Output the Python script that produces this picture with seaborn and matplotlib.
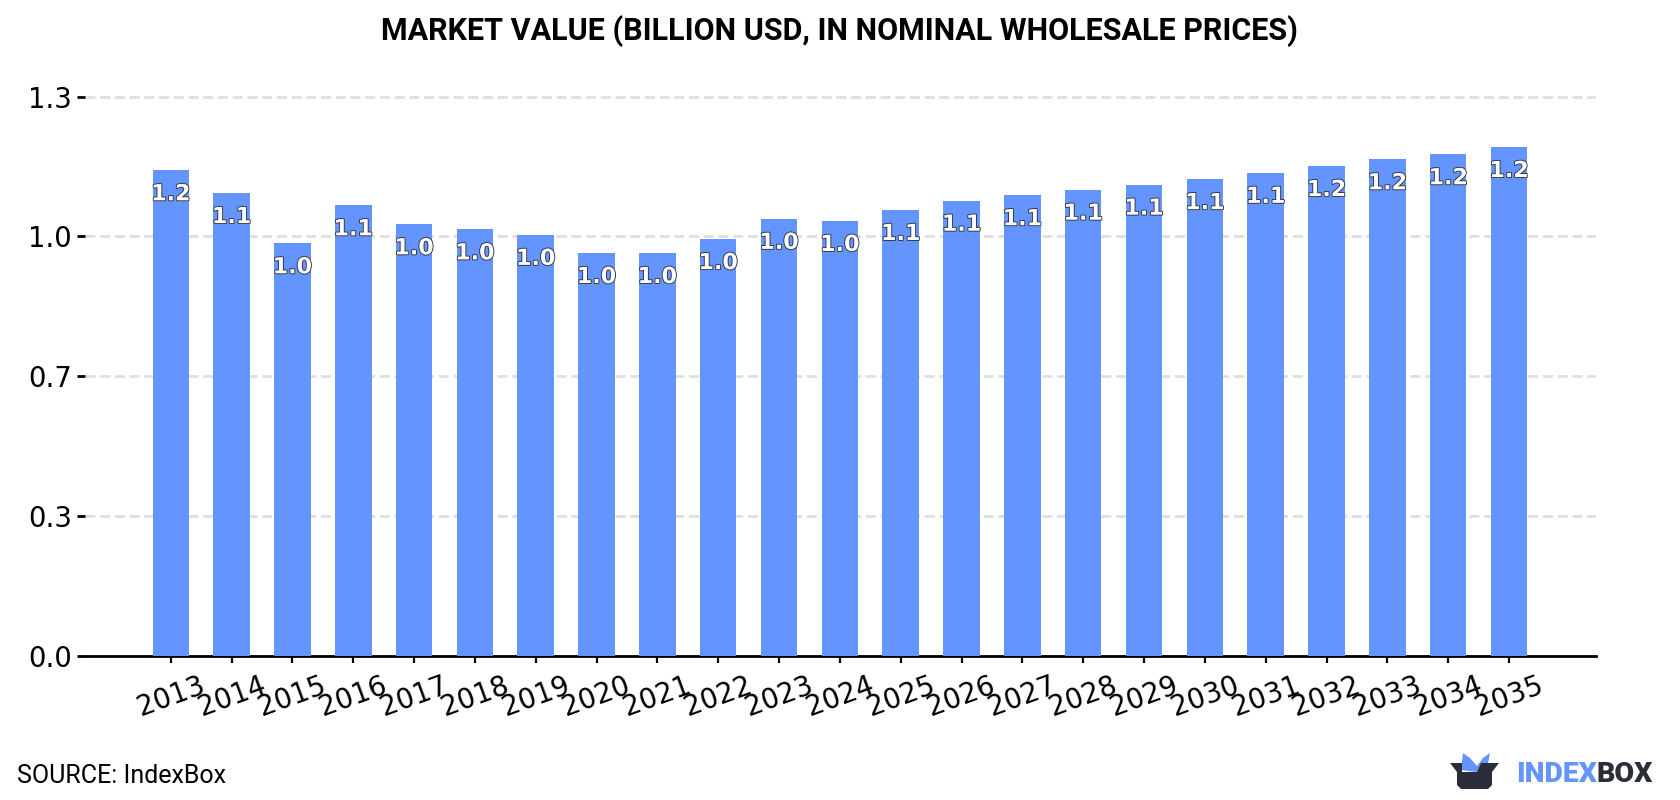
import matplotlib
matplotlib.use("Agg")
import matplotlib.pyplot as plt
import matplotlib.patheffects as pe
from matplotlib.patches import Polygon
import pandas as pd
import seaborn as sns

years = [str(y) for y in range(2013, 2036)]
market_value = [1.151, 1.097, 0.978, 1.068, 1.023, 1.011, 0.998, 0.955, 0.955, 0.988,
                1.036, 1.031, 1.057, 1.079, 1.092, 1.105, 1.117, 1.130, 1.145, 1.161,
                1.177, 1.189, 1.206]
y_ticks = [0.0, 0.331, 0.6625, 0.994, 1.325]

title_text = "MARKET VALUE (BILLION USD, IN NOMINAL WHOLESALE PRICES)"
source_text = "SOURCE: IndexBox"

BAR_BLUE = "#6495ff"
LOGO_DARK = "#2b2d38"
W, H = 1680, 800

sns.set_theme(style="white")
plt.rcParams["font.family"] = ["DejaVu Sans"]

fig = plt.figure(figsize=(W / 100, H / 100), dpi=100, facecolor="white")
ax = fig.add_axes([85 / W, 1 - 656 / H, (1596 - 85) / W, (656 - 94.6) / H])

df = pd.DataFrame({"year": years, "value": market_value})
sns.barplot(data=df, x="year", y="value", color=BAR_BLUE, saturation=1, width=0.6,
            linewidth=0, ax=ax, zorder=3)

ax.set_xlim(-1.41, 23.43)
ax.set_ylim(0, 1.33)
ax.set_xlabel("")
ax.set_ylabel("")
ax.set_yticks(y_ticks, [f"{v:.1f}" for v in y_ticks])
ax.grid(False)
ax.yaxis.grid(True, color="#dfdfdf", linewidth=2.0, linestyle=(0, (3.6, 1.7)), zorder=0)
ax.set_axisbelow(True)

sns.despine(ax=ax, left=True, top=True, right=True)
ax.spines["bottom"].set_color("black")
ax.spines["bottom"].set_linewidth(2.0)

ax.tick_params(axis="y", left=True, length=5.8, width=2.0, color="black",
               labelsize=19.8, labelcolor="black", pad=3.5)
ax.tick_params(axis="x", bottom=True, length=5, width=1.6, color="black",
               labelsize=19.8, labelcolor="black", pad=6, rotation=20)

# Value captions sit inside the top of each bar
for i, v in enumerate(market_value):
    ax.annotate(f"{v:.1f}", (i, v), xytext=(0, -17.4), textcoords="offset points",
                ha="center", va="center", fontsize=16, fontweight="bold", color="white",
                zorder=5, path_effects=[pe.withStroke(linewidth=1.3, foreground="#2f3240")])

fig.text(839 / W, 1 - 31 / H, title_text, family="Roboto", fontweight="bold",
         fontsize=22, color="black", ha="center", va="center")
fig.text(17 / W, 1 - 776 / H, source_text, family="Roboto", fontsize=18,
         color="black", ha="left", va="center")

# Brand mark in the lower right corner, placed in pixel units
overlay = fig.add_axes([0, 0, 1, 1], facecolor="none")
overlay.set_xlim(0, W)
overlay.set_ylim(H, 0)
overlay.axis("off")
overlay.add_patch(Polygon([(1461, 770), (1463, 753), (1470, 758), (1477, 766), (1483, 758),
                           (1490, 753), (1487, 768), (1476, 772), (1476, 772)],
                          closed=True, fc=BAR_BLUE, ec="none"))
overlay.add_patch(Polygon([(1450, 763), (1462, 763), (1462, 772), (1477, 772), (1481, 763),
                           (1499, 763), (1492, 772), (1492, 785), (1488, 789), (1461, 789),
                           (1457, 785), (1457, 772)],
                          closed=True, fc=LOGO_DARK, ec="none"))
overlay.text(1516, 774.5, "INDEX", family="Roboto", fontweight="black", fontsize=20.5,
             color=BAR_BLUE, ha="left", va="center")
overlay.text(1597, 774.5, "BOX", family="Roboto", fontweight="black", fontsize=20.5,
             color=LOGO_DARK, ha="left", va="center")

fig.savefig("out.png", dpi=100, facecolor="white")
